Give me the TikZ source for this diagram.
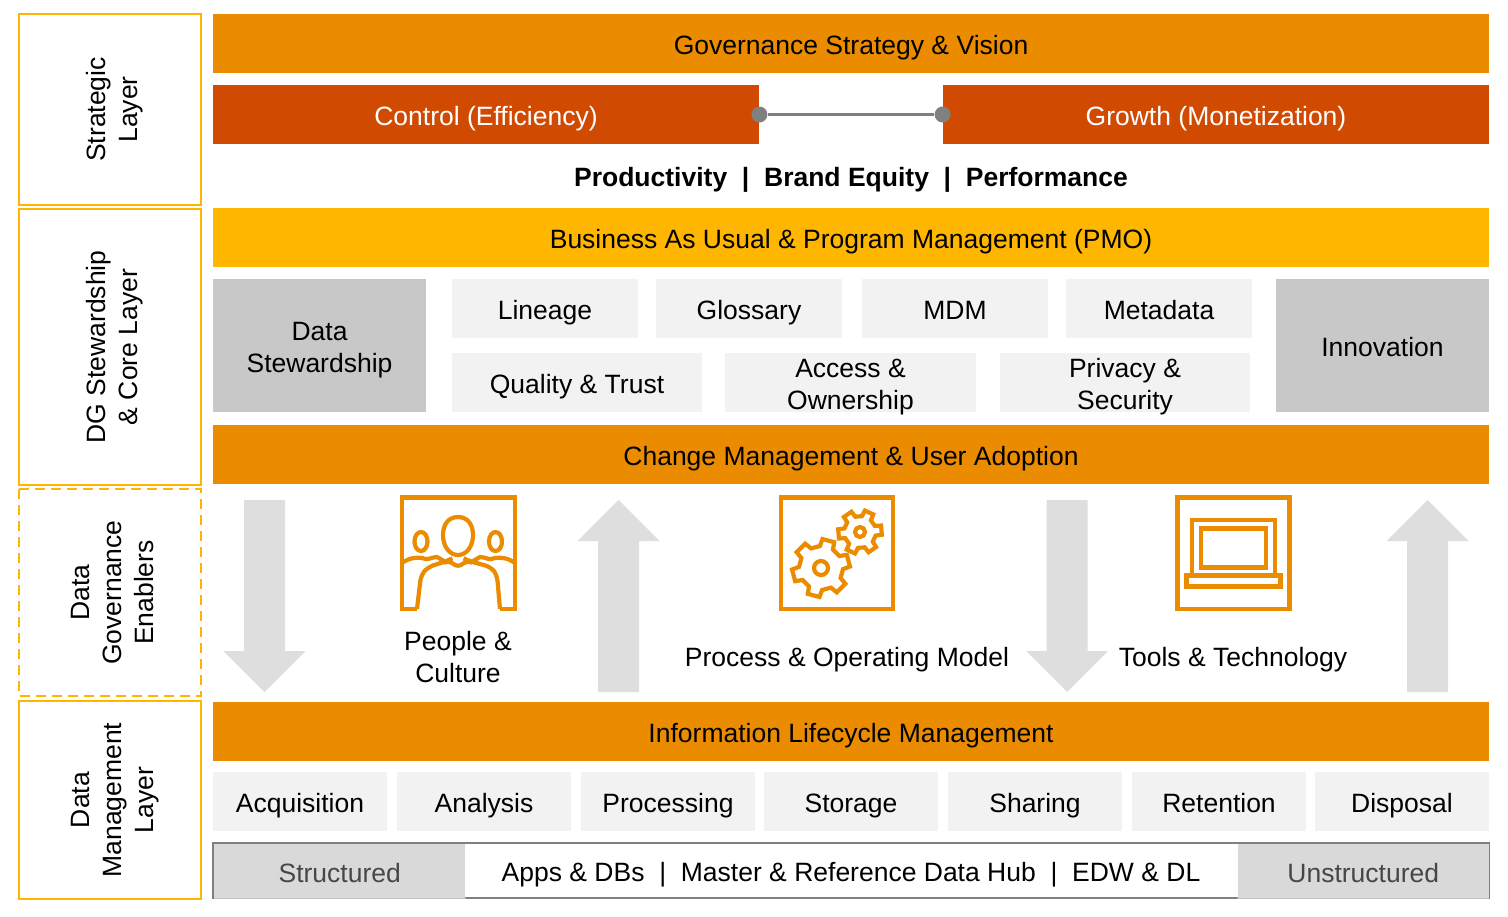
\documentclass[tikz,border=0pt]{standalone}
\usepackage{fontspec}
\setmainfont{Liberation Sans}
\usetikzlibrary{arrows.meta,calc}
\definecolor{dgorange}{HTML}{EB8C00}
\definecolor{dgred}{HTML}{D04A02}
\definecolor{dgyellow}{HTML}{FFB600}
\definecolor{dgcell}{HTML}{F2F2F2}
\definecolor{dgside}{HTML}{C8C8C8}
\definecolor{dgarrow}{HTML}{DEDEDE}
\definecolor{dgstore}{HTML}{D9D9D9}
\newcommand{\dgstrut}{\rule[-3pt]{0pt}{17pt}}
\tikzset{
  dgtext/.style={font=\fontsize{13.25}{16}\selectfont, align=center, inner sep=0,
    execute at end node=\dgstrut},
  layerbox/.style={dgtext, draw=dgyellow, line width=1pt, minimum height=91pt, rotate=90},
  orangebar/.style={dgtext, fill=dgorange, minimum width=638pt, minimum height=29.5pt},
  redbar/.style={dgtext, fill=dgred, text=white, minimum height=29.5pt},
  cell/.style={dgtext, fill=dgcell, minimum height=29.5pt},
  sidecell/.style={dgtext, fill=dgside, minimum width=106.5pt, minimum height=66.5pt},
  flowarrow/.style={fill=dgarrow},
  enabler/.style={dgtext},
  storebox/.style={dgtext, fill=dgstore, text=black!72, minimum height=27pt},
  icon/.style={draw=dgorange, line width=2.1pt, line join=miter},
  iconframe/.style={draw=dgorange, line width=2.4pt},
  linkdot/.style={circle, fill=black!50, inner sep=0, minimum size=8pt}
}
\newcommand{\dggear}[5]{% centre x, centre y, outer radius, inner radius, turn
  \draw[icon] ($(#1,#2)+({27+#5}:#4)$)
    \foreach \a in {45,105,...,345} { -- ($(#1,#2)+({\a+#5-12}:#3)$) -- ($(#1,#2)+({\a+#5+12}:#3)$) -- ($(#1,#2)+({\a+#5+18}:#4)$) -- ($(#1,#2)+({\a+#5+42}:#4)$) } -- cycle;
}
\begin{document}
\begin{tikzpicture}[x=.5pt,y=-.5pt]
    \useasboundingbox (0,0) rectangle (1508,916);

    % layers on the left
    \node[layerbox, minimum width=95.5pt] (strategic) at (110,109.5) {\dgstrut Strategic\\Layer};
    \node[layerbox, minimum width=138pt] (core) at (110,347) {\dgstrut DG Stewardship\\\& Core Layer};
    \node[layerbox, minimum width=103.5pt, dashed, dash pattern=on 5pt off 3pt] (enablers) at (110,592.5) {\dgstrut Data\\Governance\\Enablers};
    \node[layerbox, minimum width=99pt] (mgmt) at (110,800) {\dgstrut Data\\Management\\Layer};

    % strategic layer
    \node[orangebar] (vision) at (851,43.5) {Governance Strategy \& Vision};
    \node[redbar, minimum width=273pt] (control) at (486,114.5) {Control (Efficiency)};
    \node[redbar, minimum width=273pt] (growth) at (1216,114.5) {Growth (Monetization)};
    \node[linkdot] (ctrldot) at (control.east) {};
    \node[linkdot] (growdot) at (growth.west) {};
    \draw[black!50, line width=1.4pt] (ctrldot) -- (growdot);
    \node[dgtext, font=\fontsize{13.25}{16}\bfseries\selectfont] (values) at (851,175.5) {Productivity~~|~~Brand Equity~~|~~Performance};

    % stewardship and core
    \node[orangebar, fill=dgyellow] (bau) at (851,237.5) {Business As Usual \& Program Management (PMO)};
    \node[sidecell] (stewardship) at (319.5,345.5) {\dgstrut Data\\Stewardship};
    \node[sidecell] (innovation) at (1382.5,345.5) {Innovation};
    \node[cell, minimum width=93pt] (lineage) at (545,308.5) {Lineage};
    \node[cell, minimum width=93pt] (glossary) at (749,308.5) {Glossary};
    \node[cell, minimum width=93pt] (mdm) at (955,308.5) {MDM};
    \node[cell, minimum width=93pt] (metadata) at (1159,308.5) {Metadata};
    \node[cell, minimum width=125pt] (quality) at (577,382.5) {Quality \& Trust};
    \node[cell, minimum width=125.5pt, label={[dgtext]center:{\dgstrut Access \&\\Ownership}}] (access) at (850.5,382.5) {};
    \node[cell, minimum width=125pt, label={[dgtext]center:{\dgstrut Privacy \&\\Security}}] (privacy) at (1125,382.5) {};
    \node[orangebar] (change) at (851,454.5) {Change Management \& User Adoption};

    % enablers
    \fill[flowarrow] (244,500) -- (285,500) -- (285,651) -- (305.5,651) -- (264.5,692) -- (223.5,651) -- (244,651) -- cycle;
    \fill[flowarrow] (598,692) -- (639,692) -- (639,541) -- (659.5,541) -- (618.5,500) -- (577.5,541) -- (598,541) -- cycle;
    \fill[flowarrow] (1046.5,500) -- (1087.5,500) -- (1087.5,651) -- (1108,651) -- (1067,692) -- (1026,651) -- (1046.5,651) -- cycle;
    \fill[flowarrow] (1407,692) -- (1448,692) -- (1448,541) -- (1468.5,541) -- (1427.5,500) -- (1386.5,541) -- (1407,541) -- cycle;

    \draw[iconframe, line width=2.2pt, line join=miter] (417,609) -- (402,609) -- (402,497.5) -- (515,497.5) -- (515,609) -- (500,609);
    \draw[icon, rounded corners=3pt] (417,609) -- (421,575) -- (428,567) -- (447,561) -- (449,560) -- (458,568) -- (467,560) -- (469,561) -- (491,567) -- (497,575) -- (500,609);
    \draw[icon] (402,563) .. controls (409,558) and (416,557) .. (422,558) .. controls (428,561) and (431,557) .. (437,557) -- (444,561);
    \draw[icon] (515,563) .. controls (508,558) and (501,557) .. (495,558) .. controls (489,561) and (486,557) .. (480,557) -- (473,561);
    \draw[icon] (458,517) .. controls (468,517) and (473,525) .. (473,535) .. controls (473,547) and (466,555) .. (458,555) .. controls (450,555) and (443,547) .. (443,535) .. controls (443,525) and (448,517) .. (458,517) -- cycle;
    \draw[icon] (421,541.5) ellipse (6.5 and 9.5);
    \draw[icon] (495.5,541.5) ellipse (6.5 and 9.5);
    \node[enabler] (people) at (458,655) {\dgstrut People \&\\Culture};

    \draw[iconframe] (781,497.5) rectangle (893,609);
    \dggear{821}{568}{29}{22}{0}
    \draw[icon] (821,568) circle (7);
    \dggear{860}{532}{22}{16}{10}
    \draw[icon] (860,532) circle (5);
    \node[enabler] (process) at (847,655.5) {Process \& Operating Model};

    \draw[iconframe] (1177.5,497.5) rectangle (1289.5,609);
    \draw[icon] (1192,575) -- (1192,520) -- (1275,520) -- (1275,575);
    \draw[icon] (1201,528.5) rectangle (1266,567.5);
    \draw[icon] (1186.5,575.5) rectangle (1280.5,586.5);
    \node[enabler] (tools) at (1233,655.5) {Tools \& Technology};

    % data management
    \node[orangebar] (lifecycle) at (851,731.5) {Information Lifecycle Management};
    \foreach \name/\cx/\lab in {acq/300/Acquisition,ana/484/Analysis,pro/668/Processing,sto/851/Storage,sha/1035/Sharing,ret/1219/Retention,dis/1402/Disposal}
      \node[cell, minimum width=87pt] (\name) at (\cx,801.5) {\lab};

    \node[dgtext, draw=black!50, line width=1pt, minimum width=638pt, minimum height=27.5pt] (hub) at (851,870.5) {Apps \& DBs~~|~~Master \& Reference Data Hub~~|~~EDW \& DL};
    \node[storebox, minimum width=125.5pt] (structured) at (339.75,871) {Structured};
    \node[storebox, minimum width=125.5pt] (unstructured) at (1363.25,871) {Unstructured};
    \draw[black!25, line width=.8pt] (structured.south west) -- (structured.south east);
    \draw[black!25, line width=.8pt] (unstructured.south west) -- (unstructured.south east);
\end{tikzpicture}
\end{document}
